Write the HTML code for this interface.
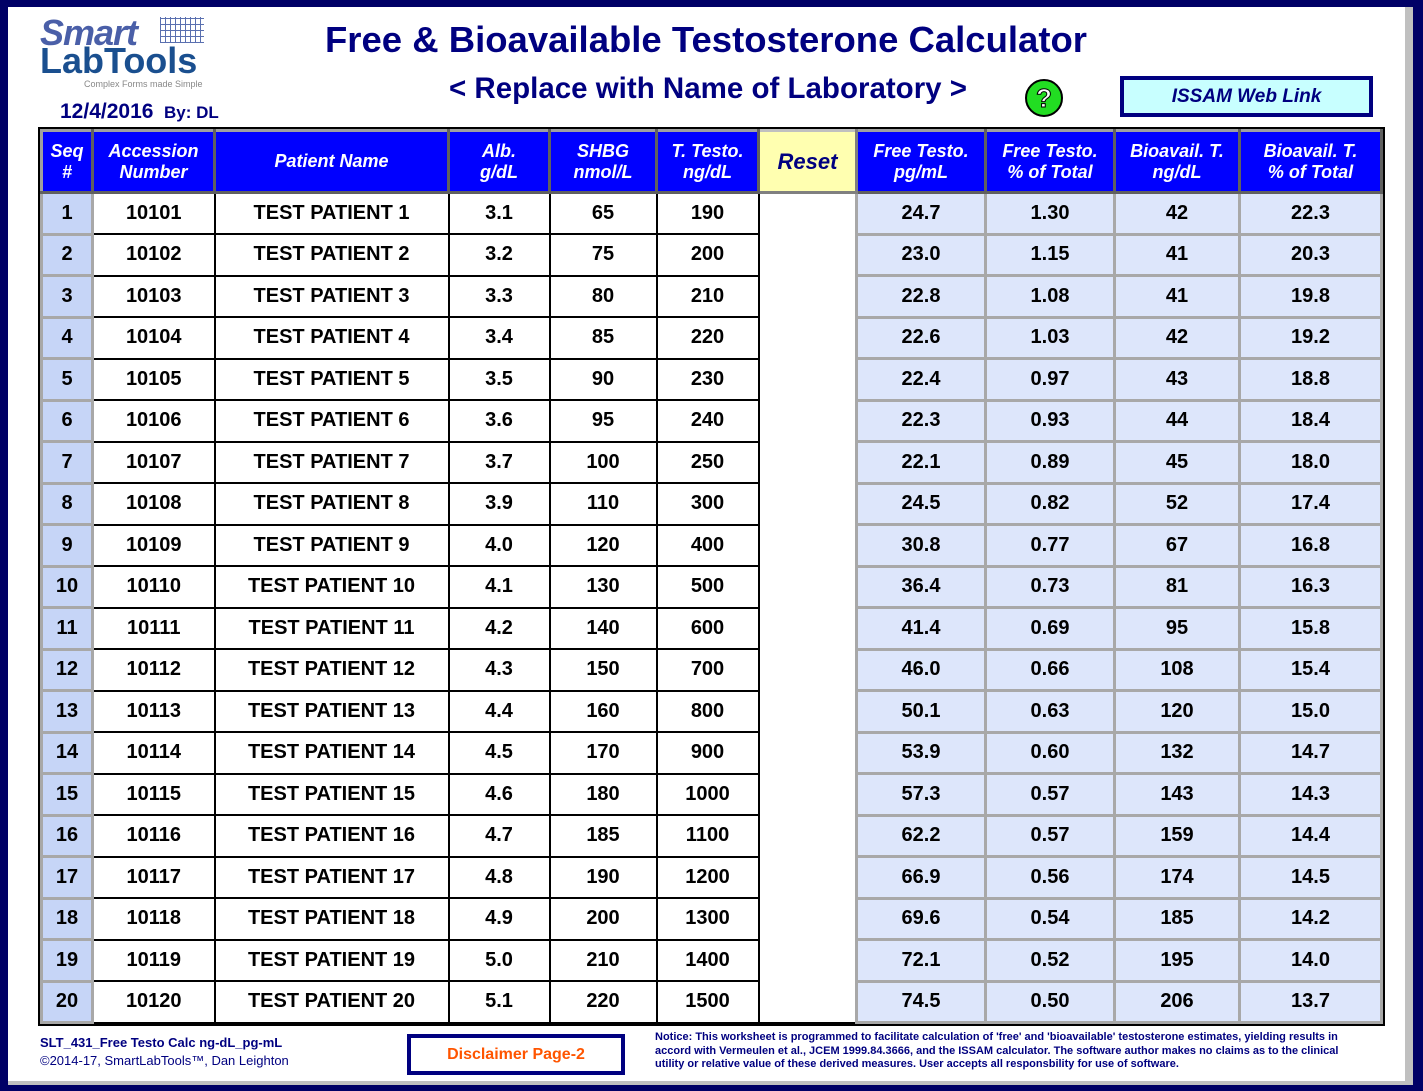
<!DOCTYPE html>
<html><head><meta charset="utf-8"><style>
body{margin:0;width:1423px;height:1091px;position:relative;background:#000066;font-family:"Liberation Sans",Arial,sans-serif;overflow:hidden}
#pg{position:absolute;left:8px;top:7px;width:1397px;height:1074px;background:#fff;border-right:8px solid #c0c0c0;border-bottom:4px solid #c0c0c0}
.a{position:absolute}
table{position:absolute;left:40px;top:129px;border-collapse:collapse;table-layout:fixed;outline:2px solid #000}
td{height:38.5px;text-align:center;font-weight:bold;font-size:20px;color:#000;padding:0;border:2px solid #000;background:#fff}
th{height:59px;background:#0000ff;color:#fff;font-style:italic;font-size:18px;line-height:21px;border:3px solid #a0a0a0;border-right-color:#606060;border-bottom-color:#606060;padding:0;font-weight:bold}
td.s{background:#c6d5f7;border:3px solid #a8a8a8}
td.r{background:#dde6fb;border:3px solid #a8a8a8}
td.e{border:none;border-left:2px solid #000;border-right:2px solid #000;background:#fff}
th.rs{background:#ffffb0;color:#000080;font-size:22px;border:3px solid #c0c0c0;border-right-color:#808080;border-bottom-color:#808080}
</style></head><body>
<div id="pg"></div>
<div class="a" style="left:40px;top:12px;font-size:36px;font-weight:bold;font-style:italic;color:#4a5fa8;letter-spacing:-1px">Smart</div>
<div class="a" style="left:40px;top:40px;font-size:36px;font-weight:bold;color:#1a4f8f">LabTools</div>
<div class="a" style="left:84px;top:79px;font-size:9px;color:#888">Complex Forms made Simple</div>
<div class="a" style="left:160px;top:17px;width:44px;height:26px;background:repeating-linear-gradient(90deg,#5a70b0 0 1px,transparent 1px 5px),repeating-linear-gradient(0deg,#5a70b0 0 1px,transparent 1px 6px)"></div>
<div class="a" style="left:60px;top:100px;font-size:21px;font-weight:bold;color:#000080">12/4/2016 <span style="font-size:17px">&nbsp;By: DL</span></div>
<div class="a" style="left:256px;top:19px;width:900px;text-align:center;font-size:36.5px;font-weight:bold;color:#000080">Free &amp; Bioavailable Testosterone Calculator</div>
<div class="a" style="left:358px;top:72px;width:700px;text-align:center;font-size:29.5px;font-weight:bold;color:#000080">&lt; Replace with Name of Laboratory &gt;</div>
<div class="a" style="left:1025px;top:79px;width:34px;height:34px;border-radius:50%;background:#22dd22;border:2px solid #000;text-align:center;font:bold 26px/34px 'Liberation Sans';color:#fff;-webkit-text-stroke:1px #000">?</div>
<div class="a" style="left:1120px;top:76px;width:245px;height:33px;border:4px solid #000080;background:#c8ffff;text-align:center;font:italic bold 19px/33px 'Liberation Sans';color:#000080">ISSAM Web Link</div>
<table>
<colgroup><col style="width:51px"><col style="width:122px"><col style="width:234px"><col style="width:101px"><col style="width:107px"><col style="width:102px"><col style="width:98px"><col style="width:129px"><col style="width:129px"><col style="width:125px"><col style="width:142px"></colgroup>
<tr><th>Seq<br>#</th><th>Accession<br>Number</th><th>Patient Name</th><th>Alb.<br>g/dL</th><th>SHBG<br>nmol/L</th><th>T. Testo.<br>ng/dL</th><th class="rs">Reset</th><th>Free Testo.<br>pg/mL</th><th>Free Testo.<br>% of Total</th><th>Bioavail. T.<br>ng/dL</th><th>Bioavail. T.<br>% of Total</th></tr>
<tr><td class="s">1</td><td>10101</td><td>TEST PATIENT 1</td><td>3.1</td><td>65</td><td>190</td><td class="e"></td><td class="r">24.7</td><td class="r">1.30</td><td class="r">42</td><td class="r">22.3</td></tr>
<tr><td class="s">2</td><td>10102</td><td>TEST PATIENT 2</td><td>3.2</td><td>75</td><td>200</td><td class="e"></td><td class="r">23.0</td><td class="r">1.15</td><td class="r">41</td><td class="r">20.3</td></tr>
<tr><td class="s">3</td><td>10103</td><td>TEST PATIENT 3</td><td>3.3</td><td>80</td><td>210</td><td class="e"></td><td class="r">22.8</td><td class="r">1.08</td><td class="r">41</td><td class="r">19.8</td></tr>
<tr><td class="s">4</td><td>10104</td><td>TEST PATIENT 4</td><td>3.4</td><td>85</td><td>220</td><td class="e"></td><td class="r">22.6</td><td class="r">1.03</td><td class="r">42</td><td class="r">19.2</td></tr>
<tr><td class="s">5</td><td>10105</td><td>TEST PATIENT 5</td><td>3.5</td><td>90</td><td>230</td><td class="e"></td><td class="r">22.4</td><td class="r">0.97</td><td class="r">43</td><td class="r">18.8</td></tr>
<tr><td class="s">6</td><td>10106</td><td>TEST PATIENT 6</td><td>3.6</td><td>95</td><td>240</td><td class="e"></td><td class="r">22.3</td><td class="r">0.93</td><td class="r">44</td><td class="r">18.4</td></tr>
<tr><td class="s">7</td><td>10107</td><td>TEST PATIENT 7</td><td>3.7</td><td>100</td><td>250</td><td class="e"></td><td class="r">22.1</td><td class="r">0.89</td><td class="r">45</td><td class="r">18.0</td></tr>
<tr><td class="s">8</td><td>10108</td><td>TEST PATIENT 8</td><td>3.9</td><td>110</td><td>300</td><td class="e"></td><td class="r">24.5</td><td class="r">0.82</td><td class="r">52</td><td class="r">17.4</td></tr>
<tr><td class="s">9</td><td>10109</td><td>TEST PATIENT 9</td><td>4.0</td><td>120</td><td>400</td><td class="e"></td><td class="r">30.8</td><td class="r">0.77</td><td class="r">67</td><td class="r">16.8</td></tr>
<tr><td class="s">10</td><td>10110</td><td>TEST PATIENT 10</td><td>4.1</td><td>130</td><td>500</td><td class="e"></td><td class="r">36.4</td><td class="r">0.73</td><td class="r">81</td><td class="r">16.3</td></tr>
<tr><td class="s">11</td><td>10111</td><td>TEST PATIENT 11</td><td>4.2</td><td>140</td><td>600</td><td class="e"></td><td class="r">41.4</td><td class="r">0.69</td><td class="r">95</td><td class="r">15.8</td></tr>
<tr><td class="s">12</td><td>10112</td><td>TEST PATIENT 12</td><td>4.3</td><td>150</td><td>700</td><td class="e"></td><td class="r">46.0</td><td class="r">0.66</td><td class="r">108</td><td class="r">15.4</td></tr>
<tr><td class="s">13</td><td>10113</td><td>TEST PATIENT 13</td><td>4.4</td><td>160</td><td>800</td><td class="e"></td><td class="r">50.1</td><td class="r">0.63</td><td class="r">120</td><td class="r">15.0</td></tr>
<tr><td class="s">14</td><td>10114</td><td>TEST PATIENT 14</td><td>4.5</td><td>170</td><td>900</td><td class="e"></td><td class="r">53.9</td><td class="r">0.60</td><td class="r">132</td><td class="r">14.7</td></tr>
<tr><td class="s">15</td><td>10115</td><td>TEST PATIENT 15</td><td>4.6</td><td>180</td><td>1000</td><td class="e"></td><td class="r">57.3</td><td class="r">0.57</td><td class="r">143</td><td class="r">14.3</td></tr>
<tr><td class="s">16</td><td>10116</td><td>TEST PATIENT 16</td><td>4.7</td><td>185</td><td>1100</td><td class="e"></td><td class="r">62.2</td><td class="r">0.57</td><td class="r">159</td><td class="r">14.4</td></tr>
<tr><td class="s">17</td><td>10117</td><td>TEST PATIENT 17</td><td>4.8</td><td>190</td><td>1200</td><td class="e"></td><td class="r">66.9</td><td class="r">0.56</td><td class="r">174</td><td class="r">14.5</td></tr>
<tr><td class="s">18</td><td>10118</td><td>TEST PATIENT 18</td><td>4.9</td><td>200</td><td>1300</td><td class="e"></td><td class="r">69.6</td><td class="r">0.54</td><td class="r">185</td><td class="r">14.2</td></tr>
<tr><td class="s">19</td><td>10119</td><td>TEST PATIENT 19</td><td>5.0</td><td>210</td><td>1400</td><td class="e"></td><td class="r">72.1</td><td class="r">0.52</td><td class="r">195</td><td class="r">14.0</td></tr>
<tr><td class="s">20</td><td>10120</td><td>TEST PATIENT 20</td><td>5.1</td><td>220</td><td>1500</td><td class="e" style="border-bottom:2px solid #000"></td><td class="r">74.5</td><td class="r">0.50</td><td class="r">206</td><td class="r">13.7</td></tr>
</table>
<div class="a" style="left:40px;top:1034px;font-size:13px;font-weight:bold;color:#000080;line-height:18px">SLT_431_Free Testo Calc ng-dL_pg-mL<br><span style="font-weight:normal">©2014-17, SmartLabTools™, Dan Leighton</span></div>
<div class="a" style="left:407px;top:1034px;width:210px;height:33px;border:4px solid #000080;background:#fff;text-align:center;font:bold 16px/33px 'Liberation Sans';color:#ff5500">Disclaimer Page-2</div>
<div class="a" style="left:655px;top:1031px;width:705px;font-size:11px;line-height:13.5px;color:#000080;font-weight:bold">Notice: This worksheet is programmed to facilitate calculation of 'free' and 'bioavailable' testosterone estimates, yielding results in accord with Vermeulen et al., JCEM 1999.84.3666, and the ISSAM calculator. The software author makes no claims as to the clinical utility or relative value of these derived measures. User accepts all responsbility for use of software.</div>
</body></html>
